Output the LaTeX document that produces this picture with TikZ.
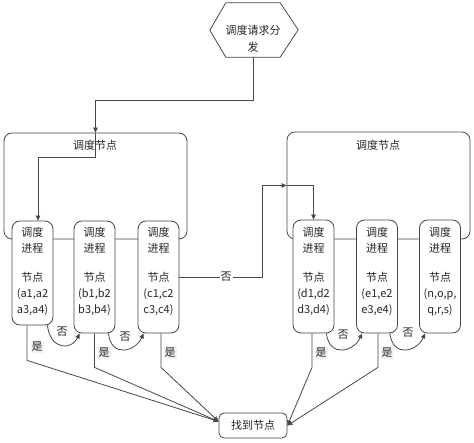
\documentclass[tikz,border=0pt]{standalone}
\usepackage{fontspec}
\setmainfont{Noto Sans CJK SC}
\usetikzlibrary{arrows.meta}
\begin{document}
\begin{tikzpicture}[x=1pt,y=-1pt,
  line/.style={draw=black!72, line width=0.8pt},
  arr/.style={line, -{Triangle[length=5pt,width=4.5pt]}},
  proc/.style={line, fill=white, rounded corners=8pt, minimum width=41pt, inner sep=0pt},
  cont/.style={line, rounded corners=8pt, minimum width=183pt, minimum height=106pt, inner sep=0pt},
  ptext/.style={align=center, font=\fontsize{11}{16}\selectfont, inner sep=0pt, text=black!85, anchor=north},
  lbl/.style={font=\fontsize{11}{13}\selectfont, inner sep=1pt, text=black!85},
  yes/.style={lbl, fill=gray!10},
  no/.style={lbl, fill=white},
]
\useasboundingbox (0,0) rectangle (474,443);

% containers
\node[cont] (L) at (95.5,186) {};
\node[cont, minimum height=107pt] (R) at (378.5,185.5) {};
\node[lbl] (Lt) at (95,145) {调度节点};
\node[lbl] (Rt) at (378,145) {调度节点};

% top hexagon
\node[minimum width=54pt, minimum height=54pt, inner sep=0pt] (hex) at (253,30) {};
\draw[line] (hex.north west) -- (hex.north east) -- ++(18,27) -- (hex.south east) -- (hex.south west) -- ++(-16,-27) -- cycle;
\node[ptext, font=\fontsize{11}{17}\selectfont] (hext) at (253,25.5) {调度请求分\\发};

% process nodes
\node[proc, minimum height=104pt] (a) at (32.5,273) {};
\node[proc, minimum height=112pt] (b) at (94.5,277) {};
\node[proc, minimum height=112pt] (c) at (158.5,277) {};
\node[proc, minimum height=113pt] (d) at (313.5,276.5) {};
\node[proc, minimum height=113pt] (e) at (377,276.5) {};
\node[proc, minimum height=113pt] (f) at (440,276.5) {};

\node[ptext] (at) at (32.5,227.5) {调度\\进程\\[13pt]节点\\(a1,a2\\a3,a4)};
\node[ptext] (bt) at (94.5,227.5) {调度\\进程\\[13pt]节点\\(b1,b2\\b3,b4)};
\node[ptext] (ct) at (158.5,227.5) {调度\\进程\\[13pt]节点\\(c1,c2\\c3,c4)};
\node[ptext] (dt) at (313.5,227.5) {调度\\进程\\[13pt]节点\\(d1,d2\\d3,d4)};
\node[ptext] (et) at (377,227.5) {调度\\进程\\[13pt]节点\\(e1,e2\\e3,e4)};
\node[ptext] (ft) at (440,227.5) {调度\\进程\\[13pt]节点\\(n,o,p,\\q,r,s)};

% found node
\node[line, fill=white, rounded corners=5pt, minimum width=68pt, minimum height=25pt, inner sep=0pt,
      font=\fontsize{11}{13}\selectfont, text=black!85] (found) at (253,425.5) {找到节点};

% top connectors
\draw[arr] (hex.south) -- ++(0,43) -| (L.north);
\draw[arr] (L.north) -- ++(0,25) -| ([xshift=5.5pt]a.north);

% c -> d
\draw[arr] (c.east) -- node[no, pos=0.566] (n3) {否} (262,277) |- (R.west);
\draw[arr] (R.west) -| (d.north);

% no curves
\draw[arr] ([xshift=-6pt]a.south east) .. controls +(3,25) and +(-8,17) .. ([xshift=6pt]b.south west);
\draw[arr] ([xshift=-7pt]b.south east) .. controls +(3,25) and +(-8,18) .. ([xshift=6pt]c.south west);
\draw[arr] ([xshift=-8pt]d.south east) .. controls +(3,25) and +(-8,18) .. ([xshift=6pt]e.south west);
\draw[arr] ([xshift=-8pt]e.south east) .. controls +(3,25) and +(-8,18) .. ([xshift=6pt]f.south west);
\node[no] (n1) at (62,332) {否};
\node[no] (n2) at (125,337) {否};
\node[no] (n4) at (343,335) {否};
\node[no] (n5) at (408,333) {否};

% yes lines
\draw[arr] ([xshift=-5.5pt]a.south) -- ++(0,35) -- ([yshift=4pt]found.west);
\draw[arr] (b.south) -- ++(0,34) -- ([yshift=4pt]found.west);
\draw[arr] ([xshift=2.5pt]c.south) -- ++(0,34) -- ([yshift=4pt]found.west);
\draw[arr] ([xshift=-1.5pt]d.south) -- ++(0,34) -- (found.east);
\draw[arr] ([xshift=1pt]e.south) -- ++(0,34) -- (found.east);
\node[yes] (y1) at (37,347) {是};
\node[yes] (y2) at (104,353) {是};
\node[yes] (y3) at (170,353) {是};
\node[yes] (y4) at (321,353) {是};
\node[yes] (y5) at (387,353) {是};
\end{tikzpicture}
\end{document}
